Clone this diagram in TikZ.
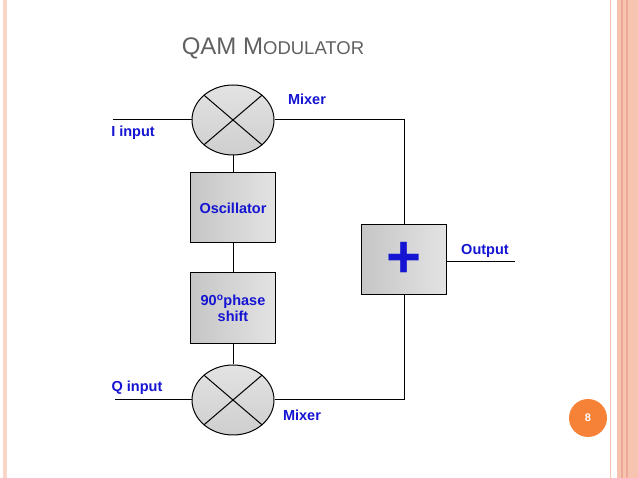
\documentclass[tikz,border=0pt]{standalone}
\usepackage{fontspec}
\setmainfont{Liberation Sans}
\usetikzlibrary{shapes.geometric,positioning}
\definecolor{lblblue}{RGB}{20,20,210}
\definecolor{pagepink}{RGB}{248,196,178}
\definecolor{pagestripe}{RGB}{236,170,150}
\definecolor{pageorange}{RGB}{245,130,55}
\tikzset{
  mixer/.style={ellipse,draw,line width=1pt,minimum width=82pt,minimum height=70pt,inner sep=0pt,
    top color=gray!22,bottom color=gray!38},
  blk/.style={rectangle,draw,line width=1pt,minimum width=85pt,minimum height=70pt,inner sep=0pt,
    left color=gray!45,right color=gray!22,align=center,text=lblblue,
    font=\fontsize{14.5}{16}\selectfont\bfseries},
  lbl/.style={text=lblblue,font=\fontsize{14.5}{16}\selectfont\bfseries,inner sep=0pt},
  wire/.style={line width=1pt}
}
\begin{document}
\begin{tikzpicture}[x=1pt,y=-1pt]
  \useasboundingbox (0,0) rectangle (638,478);
  % slide border
  \fill[pagepink!70] (3,0) rectangle (7,478);
  \fill[pagepink] (617,0) rectangle (638,478);
  \fill[pagestripe] (621,0) rectangle (623,478);
  \fill[pagestripe] (626,0) rectangle (628,478);
  \draw[pagepink,line width=1pt] (610.5,0) -- (610.5,478);
  \node[text=gray!75!black,font=\fontsize{24}{26}\selectfont] (title) at (273,48)
    {QAM M\fontsize{18.5}{20}\selectfont ODULATOR};

  % blocks
  \node[mixer] (mi) at (233,120) {};
  \node[mixer] (mq) at (233,400) {};
  \node[blk] (osc) at (233,208) {Oscillator};
  \node[blk,minimum height=71pt] (ph) at (233,308.5) {90\textsuperscript{o}phase\\shift};
  \node[blk,text width=85pt] (sum) at (404,260) {\fontsize{60}{60}\selectfont\textbf{+}};
  \foreach \m in {mi,mq}{
    \draw[wire] (\m.north west) -- (\m.south east);
    \draw[wire] (\m.north east) -- (\m.south west);
  }

  % connectors
  \coordinate (iin) at (113,120);
  \coordinate (qin) at (115,400);
  \coordinate (out) at (515,262);
  \draw[wire] (iin) -- (mi);
  \draw[wire] (qin) -- (mq);
  \draw[wire] (mi) -- (osc);
  \draw[wire] (osc) -- (ph);
  \draw[wire] (ph) -- (mq);
  \draw[wire] (mi.east) -| (sum.north);
  \draw[wire] (mq.east) -| (sum.south);
  \draw[wire] (sum.east |- out) -- (out);

  % labels
  \node[lbl] (li) at (133,133) {I input};
  \node[lbl] (lq) at (137,388) {Q input};
  \node[lbl] (lmi) at (307,99) {Mixer};
  \node[lbl] (lmq) at (302,415) {Mixer};
  \node[lbl] (lout) at (485,251) {Output};

  % page number
  \node[circle,fill=pageorange,minimum size=38pt,inner sep=0pt,text=white,
    font=\fontsize{11}{12}\selectfont\bfseries] (pg) at (588,418) {8};
\end{tikzpicture}
\end{document}
